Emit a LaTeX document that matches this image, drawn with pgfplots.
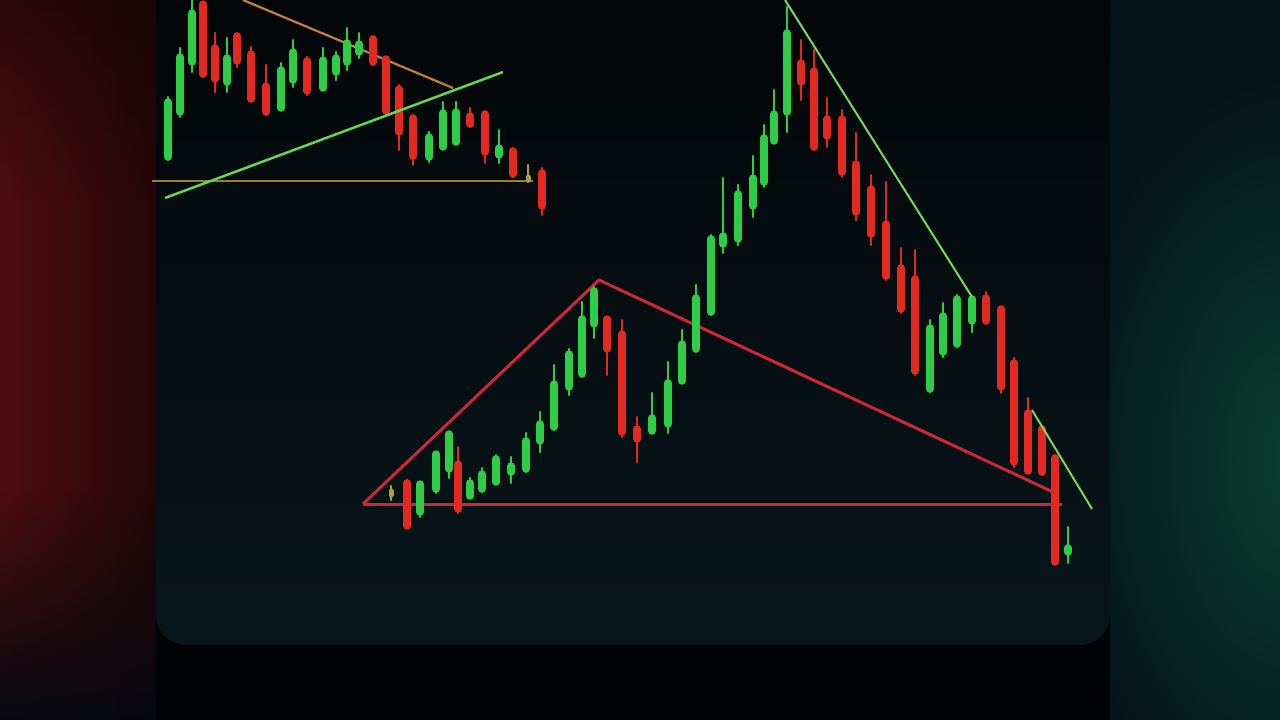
\documentclass[border=0pt]{standalone}
\usepackage{pgfplots}
\pgfplotsset{compat=1.18}
\usepackage{pgfplotstable}
\usetikzlibrary{fadings}
\definecolor{bgbase}{HTML}{030508}
\definecolor{lbandA}{HTML}{4E0D10}
\definecolor{lbandB}{HTML}{240708}
\definecolor{lbandBot}{HTML}{07090F}
\definecolor{lbandTop}{HTML}{140405}
\definecolor{rband}{HTML}{03141A}
\definecolor{rglow}{HTML}{0A402F}
\definecolor{bottomdark}{HTML}{010306}
\definecolor{panelT}{HTML}{030507}
\definecolor{panelM}{HTML}{05090C}
\definecolor{panelB}{HTML}{08161C}
\definecolor{cgreen}{RGB}{45,205,70}
\definecolor{cred}{RGB}{228,42,32}
\definecolor{cyel}{RGB}{170,160,60}
\definecolor{tline}{RGB}{195,130,60}
\definecolor{gline}{RGB}{100,215,80}
\definecolor{oline}{RGB}{150,130,40}
\definecolor{rline}{RGB}{205,40,55}
\definecolor{rgline}{RGB}{115,220,90}
\tikzfading[name=fadedown, top color=transparent!100, bottom color=transparent!0]
\tikzfading[name=fadeup, top color=transparent!0, bottom color=transparent!100]

% columns: x, body top, body bottom, wick top, wick bottom (pixel rows, 0 = top)
\pgfplotstableread{
x bt bb wt wb
168 102 157 97 160
180 57 112 48 117
192 13 62 0 72
227 58 82 38 92
281 70 108 63 110
293 52 80 40 87
323 60 88 48 90
336 58 72 52 80
347 43 62 28 70
359 44 52 33 58
429 137 157 132 162
443 113 147 102 147
456 112 142 102 142
499 148 155 130 163
420 484 512 483 517
436 454 489 452 493
449 434 469 433 478
470 483 496 478 498
482 474 489 468 492
496 459 482 455 483
511 466 472 457 483
526 441 469 433 472
540 424 441 412 452
554 384 427 365 430
569 354 387 349 395
582 319 374 302 377
594 291 324 287 338
652 418 431 393 433
668 383 424 362 433
682 344 381 330 383
696 298 349 285 352
711 239 312 235 315
723 236 244 178 253
738 194 239 185 245
753 178 206 156 217
764 138 182 125 187
774 114 141 90 143
787 33 112 7 132
930 328 389 320 392
943 316 352 303 357
957 299 344 295 347
972 299 321 297 332
1068 548 552 527 563
}\greenT

\pgfplotstableread{
x bt bb wt wb
203 4 74 2 77
215 48 79 33 92
237 36 61 33 67
251 54 99 47 100
266 86 112 65 115
307 61 91 57 95
373 39 62 36 65
386 59 111 57 113
399 89 132 85 150
413 118 156 115 165
470 116 124 108 127
485 114 152 112 163
513 151 174 148 177
542 173 206 168 215
407 483 526 480 527
458 464 509 447 513
607 319 349 317 375
622 334 432 320 437
637 429 439 417 462
801 63 82 40 100
814 71 147 50 150
827 119 136 98 147
842 119 172 110 177
856 164 212 133 220
871 189 234 175 245
886 224 276 182 280
901 268 309 248 313
915 279 371 250 375
986 298 321 292 323
1001 309 387 307 393
1014 363 462 358 467
1028 413 471 398 473
1042 429 472 427 475
1055 458 562 455 563
}\redT

\pgfplotstableread{
x bt bb wt wb
391 491 495 486 500
528 177 180 165 182
}\yelT

\pgfplotsset{
  candle/.style n args={2}{draw=none, mark=none, forget plot,
    error bars/.cd, y dir=plus, y explicit, error mark=none,
    error bar style={draw=#1, line width=#2, line cap=round, solid}},
}

\begin{document}
\begin{tikzpicture}
\useasboundingbox (0,0) rectangle (12.8,7.2);
\begin{scope}
\clip (0,0) rectangle (12.8,7.2);
\fill[bgbase] (0,0) rectangle (12.8,7.2);
\shade[left color=lbandA, right color=lbandB] (0,0) rectangle (1.56,7.2);
\fill[lbandBot, path fading=fadedown] (0,0) rectangle (1.56,2.3);
\fill[lbandTop, path fading=fadeup, opacity=0.6] (0,5.2) rectangle (1.56,7.2);
\fill[rband] (11.1,0) rectangle (12.8,7.2);
\begin{scope}
\clip (11.1,0) rectangle (12.8,7.2);
\shade[inner color=rglow, outer color=rband] (12.95,2.6) ellipse (2.4cm and 3.9cm);
\end{scope}
\fill[bottomdark] (1.56,0) rectangle (11.1,1.0);
\shade[top color=panelT, middle color=panelM, bottom color=panelB, rounded corners=0.3cm] (1.56,0.75) rectangle (11.1,7.6);
\end{scope}
\begin{axis}[at={(0,0)}, anchor=south west, scale only axis,
  width=12.8cm, height=7.2cm, xmin=0, xmax=1280, ymin=0, ymax=720,
  y dir=reverse, hide axis]
% trend lines
\addplot[tline, line width=0.22mm] coordinates {(243,0) (453,88)};
\addplot[oline, line width=0.25mm] coordinates {(152,181) (533,181)};
\addplot[rline, line width=0.3mm] coordinates {(363,504) (1062,504)};
\addplot[rline, line width=0.3mm] coordinates {(363,504) (599,280) (1053,492)};
% wicks
\addplot[candle={cgreen}{0.22mm}] table[x=x, y=wt, y error expr=\thisrow{wb}-\thisrow{wt}] \greenT;
\addplot[candle={cred}{0.22mm}] table[x=x, y=wt, y error expr=\thisrow{wb}-\thisrow{wt}] \redT;
\addplot[candle={cyel}{0.22mm}] table[x=x, y=wt, y error expr=\thisrow{wb}-\thisrow{wt}] \yelT;
% bodies
\addplot[candle={cgreen}{0.75mm}] table[x=x, y=bt, y error expr=\thisrow{bb}-\thisrow{bt}] \greenT;
\addplot[candle={cred}{0.75mm}] table[x=x, y=bt, y error expr=\thisrow{bb}-\thisrow{bt}] \redT;
\addplot[candle={cyel}{0.5mm}] table[x=x, y=bt, y error expr=\thisrow{bb}-\thisrow{bt}] \yelT;
% green trend lines on top
\addplot[gline, line width=0.25mm] coordinates {(165,198) (503,72)};
\addplot[rgline, line width=0.2mm] coordinates {(785,0) (972,297)};
\addplot[rgline, line width=0.2mm] coordinates {(1032,410) (1092,509)};
\end{axis}
\end{tikzpicture}
\end{document}
